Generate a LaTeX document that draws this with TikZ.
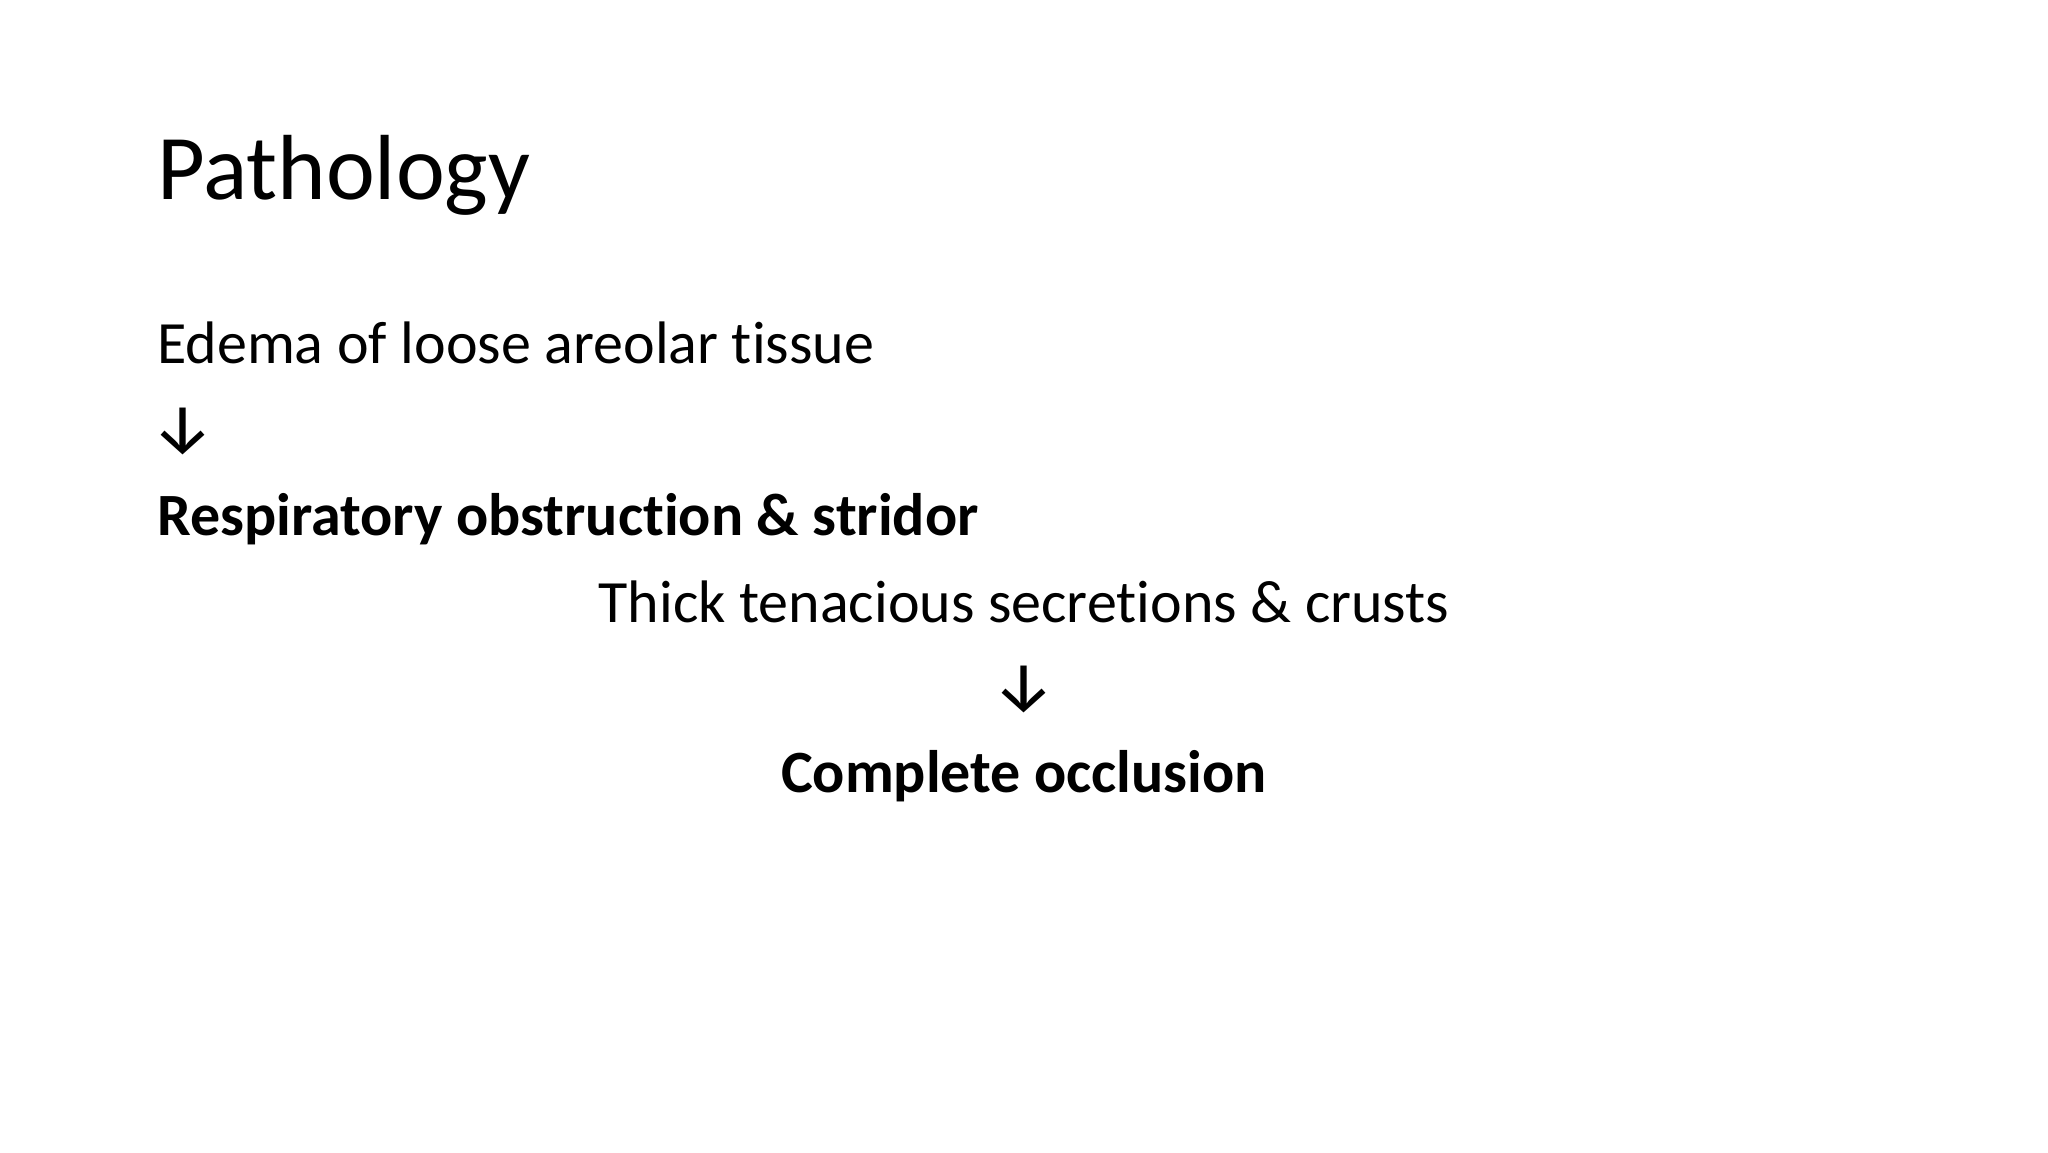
\documentclass[tikz,border=0pt]{standalone}
\usepackage{fontspec}
\setmainfont[RawFeature=-liga]{Carlito}
\newfontfamily\arrowfont{Fira Sans}
\begin{document}
\begin{tikzpicture}[x=1pt,y=-1pt,
  title/.style={inner sep=0pt,anchor=base west,font=\fontsize{92.5}{110}\selectfont},
  body/.style={inner sep=0pt,font=\fontsize{60}{72}\selectfont},
  arr/.style={inner sep=0pt,anchor=center,font=\arrowfont\fontsize{70}{80}\selectfont}]
\fill[white] (0,0) rectangle (2048,1152);
\useasboundingbox (0,0) rectangle (2048,1152);
\node[title] (t) at (157,199) {Pathology};
\node[body,anchor=base west] (a) at (157,363) {Edema of loose areolar tissue};
\node[arr] (ar1) at (183,431) {↓};
\node[body,anchor=base west] (b) at (157,535) {\textbf{Respiratory obstruction \& stridor}};
\node[body,anchor=base] (c) at (1024,622) {Thick tenacious secretions \& crusts};
\node[arr] (ar2) at (1024,689) {↓};
\node[body,anchor=base] (d) at (1024,792) {\textbf{Complete occlusion}};
\end{tikzpicture}
\end{document}
